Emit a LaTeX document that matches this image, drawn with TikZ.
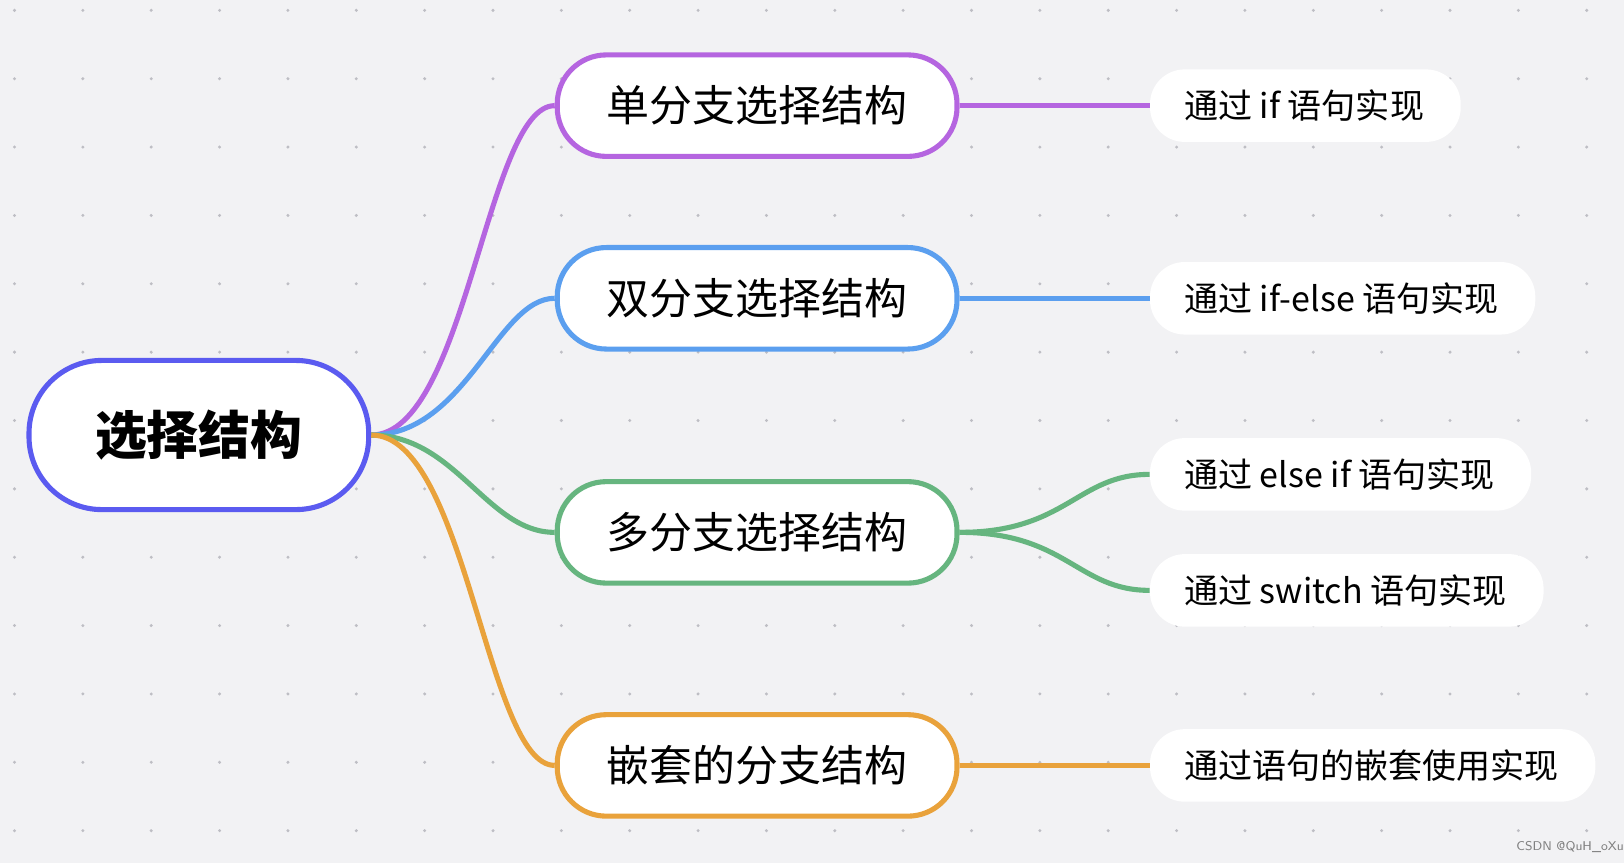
\documentclass[tikz,border=0pt]{standalone}
\usepackage{fontspec}
\newfontfamily\cjk{Noto Sans CJK SC}
\definecolor{bg}{HTML}{F2F2F4}
\definecolor{dotc}{HTML}{BEBEC4}
\definecolor{cRoot}{HTML}{5B5BF0}
\definecolor{cPur}{HTML}{B565E0}
\definecolor{cBlu}{HTML}{5B9FEF}
\definecolor{cGrn}{HTML}{66B57F}
\definecolor{cOra}{HTML}{E9A23B}
\tikzset{
  root/.style={draw=cRoot,line width=2.8pt,fill=white,rounded corners=40pt,minimum width=328*0.02cm,minimum height=144*0.02cm,font=\cjk\bfseries\fontsize{28.5}{31}\selectfont,inner sep=0pt},
  lvl/.style={draw=#1,line width=2.8pt,fill=white,rounded corners=27pt,minimum width=386*0.02cm,minimum height=98*0.02cm,font=\cjk\fontsize{23.6}{26}\selectfont,inner sep=0pt},
  leaf/.style={fill=white,rounded corners=19pt,minimum height=70*0.02cm,inner sep=0pt,anchor=west},
  leaftext/.style={anchor=west,font=\cjk\fontsize{18.7}{21}\selectfont,inner sep=0pt},
  con/.style={draw=#1,line width=2.8pt}
}
\begin{document}
\begin{tikzpicture}[x=0.02cm,y=-0.02cm]
\fill[bg] (0,0) rectangle (1568,833);
\useasboundingbox (0,0) rectangle (1568,833);
\foreach \i in {0,...,23}{\foreach \j in {0,...,12}{
  \fill[dotc] (14+66*\i,10+66*\j) circle (1.6);}}
\node[root] (r) at (192,420) {选择结构};
\node[lvl=cPur] (a) at (731,102) {单分支选择结构};
\node[lvl=cBlu] (b) at (731,288) {双分支选择结构};
\node[lvl=cGrn] (c) at (731,514) {多分支选择结构};
\node[lvl=cOra] (d) at (731,739) {嵌套的分支结构};
\node[leaf,minimum width=300*0.02cm] (a1) at (1110,102) {};
\node[leaftext] (a1t) at (1143,102) {通过 if 语句实现};
\node[leaf,minimum width=372*0.02cm] (b1) at (1110,288) {};
\node[leaftext] (b1t) at (1143,288) {通过 if-else 语句实现};
\node[leaf,minimum width=368*0.02cm] (c1) at (1110,458) {};
\node[leaftext] (c1t) at (1143,458) {通过 else if 语句实现};
\node[leaf,minimum width=380*0.02cm] (c2) at (1110,570) {};
\node[leaftext] (c2t) at (1143,570) {通过 switch 语句实现};
\node[leaf,minimum width=430*0.02cm] (d1) at (1110,739) {};
\node[leaftext] (d1t) at (1143,739) {通过语句的嵌套使用实现};
\coordinate (ro) at (r.east);
\path[con=cPur] (ro) .. controls (450,420) and (470,102) .. (a.west);
\path[con=cBlu] (ro) .. controls (450,420) and (480,288) .. (b.west);
\path[con=cGrn] (ro) .. controls (440,420) and (470,514) .. (c.west);
\path[con=cOra] (ro) .. controls (450,420) and (470,739) .. (d.west);
\path[con=cPur] (a.east) -- (a1.west);
\path[con=cBlu] (b.east) -- (b1.west);
\path[con=cOra] (d.east) -- (d1.west);
\path[con=cGrn] (c.east) .. controls (1030,514) and (1040,458) .. (c1.west);
\path[con=cGrn] (c.east) .. controls (1030,514) and (1040,570) .. (c2.west);
\node[font=\sffamily\fontsize{7}{8}\selectfont,text=gray] (wm) at (1516,818) {CSDN @QuH\_oXu};
\end{tikzpicture}
\end{document}
